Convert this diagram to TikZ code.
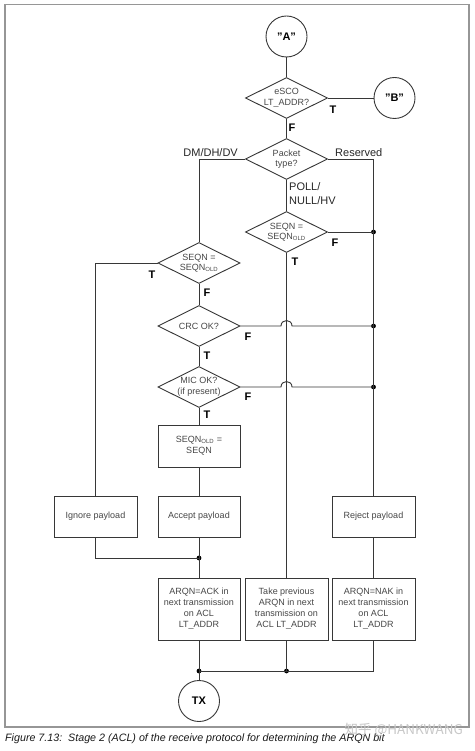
\documentclass[tikz,border=0pt]{standalone}
\usepackage{fontspec}
\setmainfont{Liberation Sans}
\newfontfamily\cjk{Noto Sans CJK SC}
\usetikzlibrary{shapes.geometric}
\definecolor{lncol}{RGB}{55,55,55}
\definecolor{txtcol}{RGB}{70,70,70}
\definecolor{framecol}{RGB}{150,150,150}
\definecolor{wmcol}{RGB}{200,200,200}
\begin{document}
\begin{tikzpicture}[x=1pt,y=-1pt,
  ln/.style={draw=lncol, line width=0.9pt},
  dia/.style={shape=diamond, draw=lncol, line width=0.9pt, minimum width=82pt, minimum height=41pt, inner sep=0pt},
  dtext/.style={align=center, text=txtcol, inner sep=0pt, font=\fontsize{9}{10.5}\selectfont},
  circ/.style={shape=circle, draw=lncol, line width=0.9pt, minimum size=41pt, inner sep=0pt, font=\bfseries\fontsize{11}{13}\selectfont},
  box/.style={shape=rectangle, draw=lncol, line width=0.9pt, minimum width=82pt, minimum height=41pt, inner sep=1pt, align=center, text=txtcol, font=\fontsize{9}{11}\selectfont},
  tall/.style={box, minimum height=62pt},
  tf/.style={font=\bfseries\fontsize{11}{13}\selectfont, inner sep=0pt},
  lbl/.style={font=\fontsize{11}{14}\selectfont, text=black!85, inner sep=0pt},
  dot/.style={shape=circle, fill=black, inner sep=0pt, minimum size=4.8pt},
]
\useasboundingbox (0,0) rectangle (474,751);
\draw[draw=framecol, line width=1.2pt] (5,4.5) rectangle (469,727);

% nodes
\node[circ] (A) at (286.5,36.5) {\char34 A\char34};
\node[dia] (esco) at (286.5,98) {};
\node[dtext] (escot) at (esco) {eSCO\\LT\_ADDR?};
\node[circ] (B) at (394.5,98) {\char34 B\char34};
\node[dia] (pkt) at (286.5,159) {};
\node[dtext] (pktt) at (pkt) {Packet\\type?};
\node[dia] (sq2) at (286.5,232) {};
\node[dtext] (sq2t) at (sq2) {SEQN =\\SEQN\textsubscript{OLD}};
\node[dia] (sq1) at (199,263) {};
\node[dtext] (sq1t) at (sq1) {SEQN =\\SEQN\textsubscript{OLD}};
\node[dia] (crc) at (199,326) {};
\node[dtext] (crct) at (crc) {CRC OK?};
\node[dia] (mic) at (199,387) {};
\node[dtext] (mict) at (mic) {MIC OK?\\(if present)};
\node[box, minimum height=42pt] (sold) at (199,446) {SEQN\textsubscript{OLD} =\\SEQN};
\node[box, minimum width=83pt] (ign) at (95.5,516.5) {Ignore payload};
\node[box] (acc) at (199,516.5) {Accept payload};
\node[box, minimum width=83pt] (rej) at (373.5,516.5) {Reject payload};
\node[tall] (ack) at (199,609) {ARQN=ACK in\\next transmission\\on ACL\\LT\_ADDR};
\node[tall, minimum width=83pt] (take) at (286.5,609) {Take previous\\ARQN in next\\transmission on\\ACL LT\_ADDR};
\node[tall, minimum width=83pt] (nak) at (373.5,609) {ARQN=NAK in\\next transmission\\on ACL\\LT\_ADDR};
\node[circ] (tx) at (199,701) {TX};

% junction dots
\node[dot] (d1) at (373.5,232) {};
\node[dot] (d2) at (373.5,326) {};
\node[dot] (d3) at (373.5,387) {};
\node[dot] (j1) at (199,558) {};
\node[dot] (j2) at (199,671) {};
\node[dot] (j3) at (286.5,671) {};
\coordinate (h1a) at (281,326);
\coordinate (h1b) at (292,326);
\coordinate (h2a) at (281,387);
\coordinate (h2b) at (292,387);

% connectors
\draw[ln] (A) -- (esco);
\draw[ln] (esco) -- (B);
\draw[ln] (esco) -- (pkt);
\draw[ln] (pkt.west) -| (sq1.north);
\draw[ln] (pkt.east) -| (rej.north);
\draw[ln] (pkt) -- (sq2);
\draw[ln] (sq2.east) -- (d1.center);
\draw[ln] (sq2) -- (take);
\draw[ln] (sq1.west) -| (ign.north);
\draw[ln] (sq1) -- (crc);
\draw[ln] (crc) -- (mic);
\draw[ln] (mic) -- (sold);
\draw[ln] (sold) -- (acc);
\draw[ln] (acc) -- (ack);
\draw[ln] (ign.south) |- (j1.center);
\draw[ln] (crc.east) -- (h1a) .. controls +(0,-7.3) and +(0,-7.3) .. (h1b) -- (d2.center);
\draw[ln] (mic.east) -- (h2a) .. controls +(0,-7.3) and +(0,-7.3) .. (h2b) -- (d3.center);
\draw[ln] (rej) -- (nak);
\draw[ln] (ack) -- (tx);
\draw[ln] (take.south) -- (j3.center);
\draw[ln] (nak.south) |- (j2.center);

% branch labels
\node[lbl, anchor=base east] (ldm) at (238,157) {DM/DH/DV};
\node[lbl, anchor=base west] (lres) at (335,157) {Reserved};
\node[lbl, anchor=north west, align=left] (lpoll) at (289,182) {POLL/\\NULL/HV};
\node[tf] (t1) at (333,110) {T};
\node[tf] (f1) at (292,128) {F};
\node[tf] (f2) at (335,243) {F};
\node[tf] (t2) at (295,262) {T};
\node[tf] (t3) at (152,275) {T};
\node[tf] (f3) at (207,293) {F};
\node[tf] (f4) at (248,337) {F};
\node[tf] (t4) at (207,356) {T};
\node[tf] (f5) at (248,397) {F};
\node[tf] (t5) at (207,415) {T};

% caption and watermark
\node[anchor=west, inner sep=0pt, font=\itshape\fontsize{10.7}{12}\selectfont, text=black!90] (cap) at (5,739) {Figure 7.13:\ \ Stage 2 (ACL) of the receive protocol for determining the ARQN bit};
\node[anchor=east, inner sep=0pt, text=wmcol, font=\cjk\fontsize{13.5}{15}\selectfont] (wm) at (463,730) {知乎 @HANKWANG};
\end{tikzpicture}
\end{document}
